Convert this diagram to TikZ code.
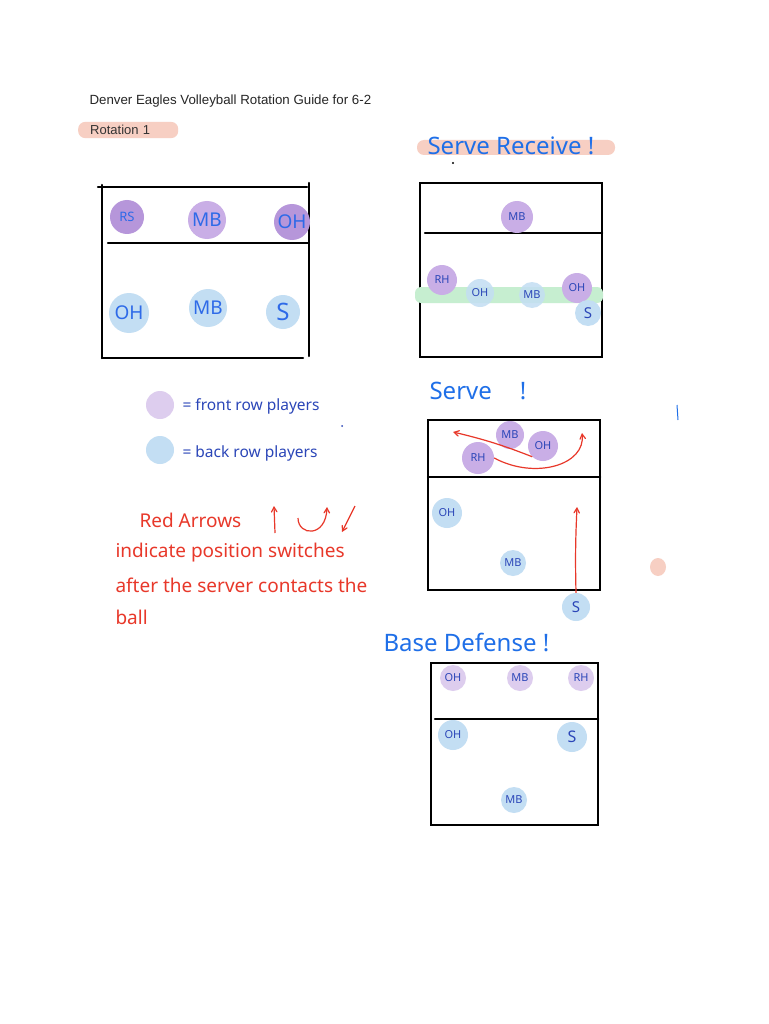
\documentclass[tikz,border=0pt]{standalone}
\usepackage{fontspec}
\setmainfont{Liberation Sans}
\newfontfamily\hand{Noto Sans}
\usetikzlibrary{positioning, arrows}
\definecolor{front}{HTML}{C9AEE6}
\definecolor{frontdark}{HTML}{B696DA}
\definecolor{frontlight}{HTML}{DDCDEE}
\definecolor{back}{HTML}{C3DEF3}
\definecolor{ink}{HTML}{2B46B8}
\definecolor{brightink}{HTML}{2E6AE8}
\definecolor{titleink}{HTML}{1F6FE8}
\definecolor{redink}{HTML}{E8382A}
\definecolor{pinkband}{HTML}{F7CFC3}
\definecolor{greenband}{HTML}{C6EED0}

\tikzset{
  court/.style={line width=2.5pt, line cap=round},
  player/.style={circle, inner sep=0pt, text=ink, font=\hand\fontsize{11}{11}\selectfont},
  frontp/.style={player, fill=front},
  backp/.style={player, fill=back},
  bigp/.style={text=brightink, font=\hand\fontsize{19}{19}\selectfont},
  heading/.style={anchor=west, text=titleink, font=\hand\fontsize{24}{24}\selectfont},
  redtext/.style={anchor=west, text=redink, font=\hand\fontsize{19}{19}\selectfont},
  redarrow/.style={->, draw=redink, line width=1.2pt},
  pill/.style={fill=pinkband, rounded corners=7pt}
}

\begin{document}
\begin{tikzpicture}[x=1pt, y=-1pt, >=angle 60]
  \useasboundingbox (0,0) rectangle (768,1024);
  \fill[white] (0,0) rectangle (768,1024);

  % title
  \node (title) [anchor=west, text=black!85, font=\fontsize{13.3}{15}\selectfont] at (86,101) {Denver Eagles Volleyball Rotation Guide for 6-2};
  \node (rot) [pill, anchor=west, text width=76pt, inner xsep=12pt, minimum height=15pt, align=left, text=black!80, font=\fontsize{13}{14}\selectfont] at (78,130) {Rotation 1};

  % rotation 1 court
  \draw[court] (98,187) -- (307,187);
  \draw[court] (102,185) -- (102,358);
  \draw[court] (309,183) -- (309,356);
  \draw[court] (108,243) -- (308,243);
  \draw[court] (102,358) -- (303,358);
  \node (c1rs) [frontp, fill=frontdark, bigp, minimum size=34pt, font=\hand\fontsize{13}{13}\selectfont] at (127,217) {RS};
  \node (c1mb) [frontp, fill=front, bigp, minimum size=38pt] at (207,220) {MB};
  \node (c1oh) [frontp, fill=frontdark, bigp, minimum size=36pt] at (292,222) {OH};
  \node (c1ohb) [backp, bigp, minimum size=40pt] at (129,313) {OH};
  \node (c1mbb) [backp, bigp, minimum size=38pt] at (208,308) {MB};
  \node (c1s) [backp, bigp, minimum size=34pt, font=\hand\fontsize{24}{24}\selectfont] at (283,312) {S};

  % serve receive
  \fill[pinkband, rounded corners=7pt] (417,140) rectangle (615,155);
  \node (srtitle) [heading] at (424,146) {Serve Receive !};
  \fill (453,163) circle (1.2pt);
  \draw[court] (420,183) rectangle (602,357);
  \draw[court] (425,233) -- (602,233);
  \fill[greenband, rounded corners=6pt] (415,287) rectangle (603,303);
  \node (srmb) [frontp, minimum size=32pt] at (517,217) {MB};
  \node (srrh) [frontp, minimum size=30pt] at (442,280) {RH};
  \node (sroh) [backp, fill opacity=0.85, text opacity=1, minimum size=28pt] at (480,293) {OH};
  \node (srmbb) [backp, fill opacity=0.85, text opacity=1, minimum size=26pt] at (532,295) {MB};
  \node (sroh2) [frontp, minimum size=30pt] at (577,288) {OH};
  \node (srs) [backp, minimum size=26pt, font=\hand\fontsize{15}{15}\selectfont] at (588,313) {S};

  % legend
  \node (lgfront) [circle, fill=frontlight, minimum size=28pt] at (160,405) {};
  \node (lgback) [circle, fill=back, minimum size=28pt] at (160,450) {};
  \node (lgfronttxt) [anchor=west, text=ink, font=\hand\fontsize{15.5}{15}\selectfont] at (179,406) {= front row players};
  \node (lgbacktxt) [anchor=west, text=ink, font=\hand\fontsize{15.5}{15}\selectfont] at (179,453) {= back row players};
  \fill[ink] (342,426) circle (1pt);

  % red arrows note
  \node (note1) [redtext] at (136,520) {Red Arrows};
  \draw[redarrow] (275,533) -- (274,506);
  \draw[redarrow] (298,518) .. controls (298,536) and (326,538) .. (327,507);
  \draw[redarrow] (355,506) -- (342,532);
  \node (note2) [redtext] at (112,553) {indicate position switches};
  \node (note3) [redtext] at (112,585) {after the server contacts the};
  \node (note4) [redtext] at (112,617) {ball};

  % serve
  \node (svtitle) [heading] at (426,391) {Serve\hspace{28pt}!};
  \draw[titleink, line width=1pt] (677,405) -- (678,420);
  \draw[court] (428,420) rectangle (600,590);
  \draw[court] (428,477) -- (600,477);
  \node (svmb) [frontp, minimum size=28pt] at (510,435) {MB};
  \node (svoh) [frontp, minimum size=30pt] at (543,446) {OH};
  \node (svrh) [frontp, minimum size=32pt] at (478,458) {RH};
  \node (svohb) [backp, minimum size=30pt] at (447,513) {OH};
  \node (svmbb) [backp, minimum size=26pt] at (513,563) {MB};
  \node (svs) [backp, minimum size=28pt, font=\hand\fontsize{15}{15}\selectfont] at (576,607) {S};
  \fill[pinkband] (658,567) ellipse (8pt and 9pt);
  \coordinate (svleft) at (453,432);
  \coordinate (svright) at (582,433);
  \coordinate (svup) at (577,507);
  \draw[redarrow] (svoh.south west) to[bend right=4] (svleft);
  \draw[redarrow] (svrh.east) .. controls (535,480) and (586,465) .. (svright);
  \draw[redarrow] (svs.north) to[bend left=2] (svup);

  % base defense
  \node (bdtitle) [heading] at (380,642) {Base Defense !};
  \draw[court] (431,663) rectangle (598,825);
  \draw[court] (435,719) -- (598,719);
  \node (bdoh) [frontp, fill=frontlight, minimum size=26pt] at (453,678) {OH};
  \node (bdmb) [frontp, fill=frontlight, minimum size=26pt] at (520,678) {MB};
  \node (bdrh) [frontp, fill=frontlight, minimum size=26pt] at (581,678) {RH};
  \node (bdohb) [backp, minimum size=30pt] at (453,735) {OH};
  \node (bds) [backp, minimum size=30pt, font=\hand\fontsize{16}{16}\selectfont] at (572,737) {S};
  \node (bdmbb) [backp, minimum size=26pt] at (514,800) {MB};
\end{tikzpicture}
\end{document}
